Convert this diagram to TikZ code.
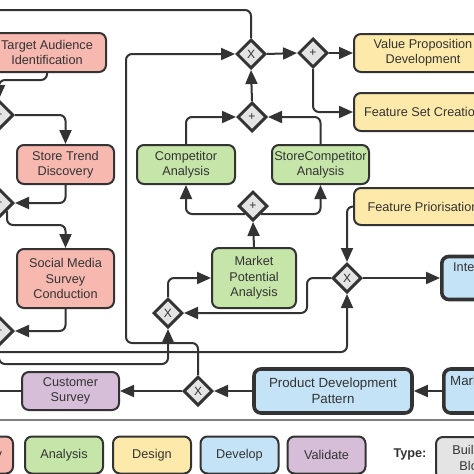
\documentclass[tikz,border=0pt]{standalone}
\usepackage{fontspec}
\setmainfont{Liberation Sans}
\usepackage{tikz}
\usetikzlibrary{arrows.meta,shapes.geometric,positioning,calc}
\usepackage{xcolor}
\definecolor{discov}{HTML}{F7B8B0}
\definecolor{analy}{HTML}{C6E5A9}
\definecolor{design}{HTML}{FDE9A9}
\definecolor{devel}{HTML}{C5E3F6}
\definecolor{valid}{HTML}{D6BDD8}
\definecolor{gatec}{HTML}{E4E4E4}
\definecolor{linec}{HTML}{333333}
\definecolor{textc}{HTML}{333333}

\begin{document}
\begin{tikzpicture}[x=1pt, y=-1pt,
    box/.style={draw=linec, line width=2pt, rounded corners=7pt, align=center,
        inner sep=0pt, text=textc, font=\fontsize{12.7}{15.4}\selectfont},
    devbox/.style={box, line width=3.6pt, fill=devel},
    gate/.style={diamond, draw=linec, line width=3pt, fill=gatec, minimum width=29pt,
        minimum height=29pt, inner sep=0pt, text=textc, font=\fontsize{12}{12}\selectfont},
    flow/.style={draw=linec, line width=2pt, rounded corners=6pt,
        -{Triangle[length=14pt,width=12pt]}},
    link/.style={draw=linec, line width=2pt, rounded corners=6pt},
    txt/.style={inner sep=0pt, text=textc, font=\fontsize{12.7}{15.4}\selectfont}]
    \useasboundingbox (0,0) rectangle (474,474);
    \clip (0,0) rectangle (474,474);
    \fill[white] (0,0) rectangle (474,474);

    % Discovery
    \node[box, fill=discov, minimum width=118pt, minimum height=39pt] (tai) at (47,52.5) {Target Audience\\Identification};
    \node[gate] (g1) at (-1,115) {+};
    \node[box, fill=discov, minimum width=97pt, minimum height=39pt] (std) at (65.5,164.5) {Store Trend\\Discovery};
    \node[gate] (g2) at (-1,203) {+};
    \node[box, fill=discov, minimum width=97pt, minimum height=59pt] (smsc) at (65.5,278.5) {Social Media\\Survey\\Conduction};
    \node[gate] (g3) at (-1,331) {+};

    % Analysis
    \node[box, fill=analy, minimum width=98pt, minimum height=39pt] (comp) at (186,164.5) {Competitor\\Analysis};
    \node[box, fill=analy, minimum width=97pt, minimum height=39pt] (scomp) at (320.5,164.5) {StoreCompetitor\\Analysis};
    \node[box, fill=analy, minimum width=84pt, minimum height=60pt] (mpa) at (254,278) {Market\\Potential\\Analysis};

    % Gateways
    \node[gate] (x1) at (251,54) {X};
    \node[gate] (ptop) at (313,53) {+};
    \node[gate] (pmid) at (252,117) {+};
    \node[gate] (plow) at (253,206) {+};
    \node[gate] (xr) at (347,278) {X};
    \node[gate] (xl) at (168,313) {X};
    \node[gate] (xb) at (198,391) {X};

    % Design
    \node[box, fill=design, minimum width=138pt, minimum height=38pt] (vpd) at (423,53) {Value Proposition\\Development};
    \node[box, fill=design, minimum width=138pt, minimum height=38pt] (fsc) at (423,112) {Feature Set Creation};
    \node[box, fill=design, minimum width=138pt, minimum height=37pt] (fp) at (423,206.5) {Feature Priorisation};

    % Develop and validate
    \node[devbox, minimum width=90pt, minimum height=43pt, anchor=west] (int) at (440,278) {};
    \node[txt, anchor=base west] (intl) at (453,271) {Integration};
    \node[devbox, minimum width=158pt, minimum height=44pt, font=\fontsize{13.3}{15.6}\selectfont] (pdp) at (333,391) {Product Development\\Pattern};
    \node[devbox, minimum width=90pt, minimum height=44pt, anchor=west] (mar) at (442,391) {};
    \node[txt, anchor=base west, font=\fontsize{13.3}{15.6}\selectfont] (marl) at (450,385) {Market};
    \node[box, fill=valid, minimum width=97pt, minimum height=38pt] (cs) at (70.5,391) {Customer\\Survey};

    % Free ends
    \coordinate (topin) at (-30,10);
    \coordinate (midin) at (-30,352);
    \coordinate (csout) at (-30,391);

    % Connectors
    \draw[link] (topin) -| (x1.north);
    \draw[flow] (tai.south) -- ++(0,7) -| (g1.north);
    \draw[flow] (g1.east) -| (std.north);
    \draw[flow] (std.south) |- (g2.east);
    \draw[flow] (g2.south east) |- ($(smsc.north)+(0,-23)$) -- (smsc.north);
    \draw[flow] (smsc.south) |- (g3.east);
    \draw[flow] (g3.south) -- ++(0,17) -| (xl.south);
    \draw[flow] (midin) -| (xr.south);
    \draw[flow] (xb.north) |- (126,343) |- (x1.west);
    \draw[flow] (xl.north) |- (mpa.west);
    \draw[flow] (mpa.north) -- (plow.south);
    \draw[flow] (plow.south west) -| (comp.south);
    \draw[flow] (plow.south east) -| (scomp.south);
    \draw[flow] (comp.north) |- (pmid.west);
    \draw[flow] (scomp.north) |- (pmid.east);
    \draw[flow] (pmid.north) -- (x1.south);
    \draw[flow] (x1.east) -- (ptop.west);
    \draw[flow] (ptop.east) -- (vpd.west);
    \draw[flow] (ptop.south) |- (fsc.west);
    \draw[flow] (fp.west) -| (xr.north);
    \draw[flow] (xr.west) -- ++(-24,0) |- (xl.east);
    \draw[flow] (xr.east) -- (int.west);
    \draw[flow] (mar.west) -- (pdp.east);
    \draw[flow] (pdp.west) -- (xb.east);
    \draw[flow] (xb.west) -- (cs.east);
    \draw[link] (cs.west) -- (csout);

    % Legend
    \draw[draw=gray, line width=1.5pt] (-5,420) -- (480,420);
    \node[box, fill=discov, minimum width=78pt, minimum height=37pt] (lgdis) at (-26,455) {Discovery};
    \node[box, fill=analy, minimum width=78pt, minimum height=37pt] (lgana) at (64,455) {Analysis};
    \node[box, fill=design, minimum width=78pt, minimum height=37pt] (lgdes) at (152,455) {Design};
    \node[box, fill=devel, minimum width=78pt, minimum height=37pt] (lgdev) at (239.5,455) {Develop};
    \node[box, fill=valid, minimum width=78pt, minimum height=37pt] (lgval) at (326.5,455) {Validate};
    \node[txt, font=\bfseries\fontsize{12.7}{15.4}\selectfont] (type) at (410,454) {Type:};
    \node[box, fill=gatec, minimum width=78pt, minimum height=42pt] (lgbb) at (475,458) {Building\\Block};
\end{tikzpicture}
\end{document}
